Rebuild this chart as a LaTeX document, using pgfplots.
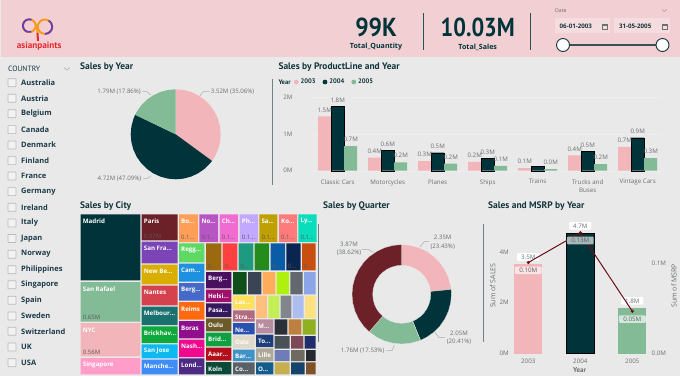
\documentclass[border=0pt]{standalone}
\usepackage{fontspec}
\usepackage{pgfplots}
\pgfplotsset{compat=1.18}
\setmainfont{Open Sans}
\newfontfamily\din{PT Sans}
\newcommand{\fs}[1]{\fontsize{#1}{#1}\selectfont}
\definecolor{bgc}{HTML}{E9E9E9}
\definecolor{headc}{HTML}{F1CFD2}
\definecolor{pinkc}{HTML}{F2B5BA}
\definecolor{darkc}{HTML}{00343A}
\definecolor{greenc}{HTML}{82BB96}
\definecolor{maroonc}{HTML}{6B2127}
\definecolor{linec}{HTML}{6E1014}
\definecolor{titlec}{HTML}{12343B}
\definecolor{lblc}{HTML}{6A6F70}
\definecolor{divc}{HTML}{6F8182}
\definecolor{leadc}{HTML}{ABABAB}
\definecolor{slabel}{HTML}{1C3A48}
\definecolor{logop}{HTML}{6A3FB0}
\definecolor{logoo}{HTML}{F59A1E}
\definecolor{logor}{HTML}{E8262E}
\newcommand{\T}[5]{\node[anchor=#3,inner sep=0pt,#4] at (axis cs:#1,#2) {#5};}
\newcommand{\Title}[3]{\T{#1}{#2}{west}{text=titlec}{\din\bfseries\fs{9.45}#3}}
\newcommand{\C}[2]{\draw[draw=black!27,line width=.7pt,fill=black!5,rounded corners=.5pt] (axis cs:8,#1-4) rectangle (axis cs:16,#1+4);\T{21}{#1}{west}{text=slabel}{\bfseries\fs{7.5}#2}}
\newcommand{\Lead}[1]{\draw[leadc,line width=.5pt] #1;}
\newcommand{\tm}[6]{\xglobal\definecolor{tc#5}{HTML}{#5}%
  \addplot[fill=tc#5,draw=none,forget plot] coordinates {(#1,#2)(#3,#2)(#3,#4)(#1,#4)(#1,#2)};%
  \node[anchor=west,inner sep=0pt,text=white] at (axis cs:#1+6,#2+21) {\bfseries\fs{6.2}#6};}
\newcommand{\tv}[3]{\node[anchor=west,inner sep=0pt,text=black!65] at (axis cs:#1,#2) {\fs{6}#3};}
\pgfplotsset{dotleg/.style={legend image code/.code={\fill[fill=#1,draw=none] (0pt,0pt) circle (2.4pt);}}}
\begin{document}
\begin{tikzpicture}
\useasboundingbox (0,0) rectangle (680pt,376pt);
\fill[bgc] (0,0) rectangle (680pt,376pt);
% ---------- canvas: frame, slicer, KPI, titles, pie labels
\begin{axis}[at={(0pt,0pt)},anchor=south west,scale only axis,width=680pt,height=376pt,
  xmin=0,xmax=680,ymin=0,ymax=376,y dir=reverse,hide axis,clip=false]
\fill[headc] (axis cs:1,0) rectangle (axis cs:680,57);
% logo
\draw[color=logoo,line width=1.9pt] (axis cs:29.3,25.7) circle (6.4pt);
\draw[color=logop,line width=1.9pt] (axis cs:29.3,25.7) ++(70:6.4pt) arc (70:290:6.4pt);
\draw[color=logoo,line width=1.9pt] (axis cs:45,26.7) circle (7.2pt);
\draw[color=logop,line width=1.9pt] (axis cs:45,26.7) ++(-90:7.2pt) arc (-90:60:7.2pt);
\draw[color=logoo,line width=1.9pt] (axis cs:35.5,24) .. controls (axis cs:37.5,28) and (axis cs:37.5,32) .. (axis cs:37.5,35);
\draw[color=logor,line width=2pt] (axis cs:37.5,33) -- (axis cs:38,41);
\T{39.2}{46}{center}{text=logor}{\din\bfseries\fs{9.2}asianpaints}
% header KPIs
\T{376}{27}{center}{text=darkc}{\din\bfseries\fs{26}\scalebox{.91}[1]{99K}}
\T{477.7}{27}{center}{text=darkc}{\din\bfseries\fs{26}\scalebox{.86}[1]{10.03M}}
\T{376}{47}{center}{text=darkc}{\bfseries\fs{7.1}Total\_Quantity}
\T{477.7}{47}{center}{text=darkc}{\bfseries\fs{7.1}Total\_Sales}
\draw[darkc!85,line width=.9pt] (axis cs:423.5,13) -- (axis cs:423.5,50);
\draw[darkc!85,line width=.9pt] (axis cs:530,13) -- (axis cs:530,50);
% date slicer
\T{555}{11}{west}{text=lblc}{\fs{5.2}Date}
\draw[lblc!70,line width=.5pt] (axis cs:662,9.5) -- (axis cs:664.3,11.5) -- (axis cs:666.6,9.5);
\fill[headc!70!white] (axis cs:555,18) rectangle (axis cs:610,33);
\fill[headc!70!white] (axis cs:614,18) rectangle (axis cs:670,33);
\T{559.5}{26.5}{west}{text=titlec}{\bfseries\fs{6.2}06-01-2003}
\T{618.8}{26.5}{west}{text=titlec}{\bfseries\fs{6.2}31-05-2005}
\fill[lblc] (axis cs:602,23.5) rectangle (axis cs:608,29.5);
\fill[headc!70!white] (axis cs:603,25.5) rectangle (axis cs:607,28.5);
\fill[lblc] (axis cs:661.5,23.5) rectangle (axis cs:667.5,29.5);
\fill[headc!70!white] (axis cs:662.5,25.5) rectangle (axis cs:666.5,28.5);
\draw[titlec!85,line width=1.1pt] (axis cs:563,45) -- (axis cs:662,45);
\draw[titlec,line width=.9pt,fill=white] (axis cs:563,45) circle (6.5pt);
\draw[titlec,line width=.9pt,fill=white] (axis cs:662.5,45) circle (6.5pt);
% slicer
\T{8}{69}{west}{text=titlec}{\din\fs{7.6}COUNTRY}
\draw[gray!70,line width=.5pt] (axis cs:64,67.5) -- (axis cs:67,70) -- (axis cs:70,67.5);
\C{82.7}{Australia}\C{98.2}{Austria}\C{113.7}{Belgium}\C{129.6}{Canada}\C{145}{Denmark}
\C{160.6}{Finland}\C{176}{France}\C{191.6}{Germany}\C{207.3}{Ireland}\C{223}{Italy}
\C{238.4}{Japan}\C{254.2}{Norway}\C{269.7}{Philippines}\C{284.8}{Singapore}\C{300.3}{Spain}
\C{316}{Sweden}\C{331.2}{Switzerland}\C{347}{UK}\C{362.7}{USA}
% titles
\Title{80}{66.7}{Sales by Year}
\Title{278.3}{66.7}{Sales by ProductLine and Year}
\Title{80}{206.3}{Sales by City}
\Title{323}{206.3}{Sales by Quarter}
\Title{488}{206.3}{Sales and MSRP by Year}
% dividers
\draw[divc,line width=1pt] (axis cs:272.8,79) -- (axis cs:272.8,185);
\draw[divc,line width=1pt] (axis cs:318.8,224) -- (axis cs:318.8,342);
\draw[divc,line width=1pt] (axis cs:483.8,224) -- (axis cs:483.8,342);
% bar legend title
\T{278.3}{82}{west}{text=titlec}{\din\bfseries\fs{6.6}Year}
% pie labels
\T{210.7}{91.8}{west}{text=lblc}{\fs{6.1}3.52M (35.06\%)}
\T{141}{91.8}{east}{text=lblc}{\fs{6.1}1.79M (17.86\%)}
\T{141.3}{178.7}{east}{text=lblc}{\fs{6.1}4.72M (47.09\%)}
\Lead{(axis cs:200,95.7) -- (axis cs:203.3,91.7) -- (axis cs:209.3,91.7)}
\Lead{(axis cs:142.7,91.7) -- (axis cs:147,91.7) -- (axis cs:150.7,95)}
\Lead{(axis cs:143.3,178.3) -- (axis cs:147.7,178.3) -- (axis cs:151,175.7)}
% donut labels
\T{442.7}{237.8}{center}{text=lblc}{\fs{6.1}2.35M}
\T{442.7}{246.8}{center}{text=lblc}{\fs{6.1}(23.43\%)}
\T{349}{244.4}{center}{text=lblc}{\fs{6.1}3.87M}
\T{349}{253.2}{center}{text=lblc}{\fs{6.1}(38.62\%)}
\T{459}{333}{center}{text=lblc}{\fs{6.1}2.05M}
\T{459}{342}{center}{text=lblc}{\fs{6.1}(20.41\%)}
\T{384.5}{350.5}{east}{text=lblc}{\fs{6.1}1.76M (17.53\%)}
\Lead{(axis cs:420,246.7) -- (axis cs:424.3,241.7) -- (axis cs:429,241.7)}
\Lead{(axis cs:361.7,249.3) -- (axis cs:368.3,249.3) -- (axis cs:373.3,252.3)}
\Lead{(axis cs:435,332.3) -- (axis cs:439,337.7) -- (axis cs:445,337.7)}
\Lead{(axis cs:386.7,350.3) -- (axis cs:392.3,350.3) -- (axis cs:394.3,345)}
\end{axis}
% ---------- pie: sales by year
\begin{axis}[at={(130.7pt,196.7pt)},anchor=south west,scale only axis,width=90pt,height=90pt,
  xmin=-1,xmax=1,ymin=-1,ymax=1,hide axis,clip=false]
\addplot[fill=pinkc,draw=none,data cs=polar] coordinates {(0,0)(90,1)(80,1)(70,1)(60,1)(50,1)(40,1)(30,1)(20,1)(10,1)(0,1)(-10,1)(-20,1)(-30,1)(-36.2,1)(0,0)};
\addplot[fill=darkc,draw=none,data cs=polar] coordinates {(0,0)(-36.2,1)(-40,1)(-50,1)(-60,1)(-70,1)(-80,1)(-90,1)(-100,1)(-110,1)(-120,1)(-130,1)(-140,1)(-150,1)(-160,1)(-170,1)(-180,1)(-190,1)(-200,1)(-205.7,1)(0,0)};
\addplot[fill=greenc,draw=none,data cs=polar] coordinates {(0,0)(-205.7,1)(-210,1)(-220,1)(-230,1)(-240,1)(-250,1)(-260,1)(-270,1)(0,0)};
\end{axis}
% ---------- donut: sales by quarter
\begin{axis}[at={(352pt,32pt)},anchor=south west,scale only axis,width=99.4pt,height=99.4pt,
  xmin=-1,xmax=1,ymin=-1,ymax=1,hide axis,clip=false]
\addplot[fill=pinkc,draw=bgc,line width=.3pt,data cs=polar] coordinates {(90,1)(80,1)(70,1)(60,1)(50,1)(40,1)(30,1)(20,1)(10,1)(5.7,1)(5.7,.5835)(10,.5835)(20,.5835)(30,.5835)(40,.5835)(50,.5835)(60,.5835)(70,.5835)(80,.5835)(90,.5835)(90,1)};
\addplot[fill=darkc,draw=bgc,line width=.3pt,data cs=polar] coordinates {(5.7,1)(0,1)(-10,1)(-20,1)(-30,1)(-40,1)(-50,1)(-60,1)(-67.8,1)(-67.8,.5835)(-60,.5835)(-50,.5835)(-40,.5835)(-30,.5835)(-20,.5835)(-10,.5835)(0,.5835)(5.7,.5835)(5.7,1)};
\addplot[fill=greenc,draw=bgc,line width=.3pt,data cs=polar] coordinates {(-67.8,1)(-70,1)(-80,1)(-90,1)(-100,1)(-110,1)(-120,1)(-130.9,1)(-130.9,.5835)(-120,.5835)(-110,.5835)(-100,.5835)(-90,.5835)(-80,.5835)(-70,.5835)(-67.8,.5835)(-67.8,1)};
\addplot[fill=maroonc,draw=bgc,line width=.3pt,data cs=polar] coordinates {(-130.9,1)(-140,1)(-150,1)(-160,1)(-170,1)(-180,1)(-190,1)(-200,1)(-210,1)(-220,1)(-230,1)(-240,1)(-250,1)(-260,1)(-270,1)(-270,.5835)(-260,.5835)(-250,.5835)(-240,.5835)(-230,.5835)(-220,.5835)(-210,.5835)(-200,.5835)(-190,.5835)(-180,.5835)(-170,.5835)(-160,.5835)(-150,.5835)(-140,.5835)(-130.9,.5835)(-130.9,1)};
\end{axis}
% ---------- bars: product line by year
\begin{axis}[at={(310pt,205.3pt)},anchor=south west,scale only axis,width=351pt,height=77pt,
  ybar=0pt,bar width=13pt,xmin=-0.554,xmax=6.466,ymin=0,ymax=2.1,clip=false,
  axis line style={draw=none},major tick length=0pt,
  ymajorgrids,grid style={draw=black!7,line width=.4pt},
  ytick={0,1,2},yticklabels={0M,1M,2M},
  xtick={0,1,2,3,4,5,6},
  xticklabels={Classic Cars,Motorcycles,Planes,Ships,Trains,{Trucks and\\Buses},Vintage Cars},
  yticklabel style={font=\fs{6.2},text=lblc,inner sep=0pt,xshift=-17.3pt},
  xticklabel style={font=\fontsize{6.2}{8.6}\selectfont,text=lblc,inner sep=0pt,align=center,yshift=-8.5pt},
  point meta=explicit symbolic,
  nodes near coords,
  every node near coord/.append style={font=\fs{6.2},text=lblc,inner sep=0pt,anchor=south,yshift=4pt},
  legend columns=-1,
  legend style={at={(-0.046,1.152)},anchor=west,draw=none,fill=none,inner sep=0pt,outer sep=0pt,
    font=\din\bfseries\fs{6.6},text=titlec,
    /tikz/every even column/.append style={column sep=5pt}}]
\addplot[fill=pinkc,draw=none,dotleg=pinkc] coordinates {(0,1.48)[1.5M] (1,.36)[0.4M] (2,.26)[0.3M] (3,.24)[0.2M] (4,.07)[0.1M] (5,.42)[0.4M] (6,.65)[0.7M]};
\addplot[fill=darkc,draw=black,line width=.4pt,dotleg=darkc] coordinates {(0,1.75)[1.8M] (1,.55)[0.6M] (2,.49)[0.5M] (3,.33)[0.3M] (4,.11)[ ] (5,.52)[0.5M] (6,.9)[0.9M]};
\addplot[fill=greenc,draw=none,dotleg=greenc] coordinates {(0,.67)[0.7M] (1,.23)[0.2M] (2,.19)[0.2M] (3,.13)[0.1M] (4,.045)[0.0M] (5,.18)[0.2M] (6,.34)[0.3M]};
\legend{2003,2004,2005}
\end{axis}
% ---------- treemap
\begin{axis}[at={(75pt,0pt)},anchor=south west,scale only axis,width=245pt,height=181pt,
  xmin=0,xmax=735,ymin=0,ymax=543,y dir=reverse,hide axis,clip=false]
\tm{17}{58}{196}{256}{00343A}{Madrid}
\tm{17}{261}{196}{380}{82BB96}{San Rafael}
\tm{17}{384}{196}{484}{F2B5BA}{NYC}
\tm{17}{489}{196}{538}{FF9CC7}{Singapore}
\tm{200}{58}{308}{136}{6B2127}{Paris}
\tm{200}{140}{308}{205}{7B45B8}{San Fra...}
\tm{200}{209}{308}{268}{D9AE00}{New Be...}
\tm{200}{272}{308}{331}{D6414E}{Nantes}
\tm{200}{335}{308}{390}{1B7070}{Melbour...}
\tm{200}{394}{308}{444}{0FA83C}{Brickhav...}
\tm{200}{448}{308}{490}{0CB9F0}{San Jose}
\tm{200}{494}{308}{538}{3E8CF8}{Manche...}
\tm{312}{58}{369}{141}{FF9F57}{Bo...}
\tm{373}{58}{429}{141}{B855C4}{No...}
\tm{434}{58}{489}{141}{F06CD0}{Ch...}
\tm{494}{58}{549}{141}{C3A8FF}{Ph...}
\tm{553}{58}{607}{141}{BFA000}{Sa...}
\tm{612}{58}{666}{141}{FF7B7B}{Ko...}
\tm{670}{58}{725}{141}{0ADDBB}{Ly...}
\tm{312}{145}{388}{202}{5DD964}{Regg...}
\tm{312}{206}{388}{260}{1E90E0}{Cam...}
\tm{312}{264}{388}{317}{4668C8}{Berg...}
\tm{312}{321}{388}{374}{FF6A0F}{Reims}
\tm{312}{378}{388}{430}{8E0E8E}{Boras}
\tm{312}{434}{388}{486}{F0088E}{Nash...}
\tm{312}{490}{388}{538}{4D2A84}{Lond...}
\tm{393}{145}{439}{226}{9B6A10}{}
\tm{443}{145}{487}{226}{FF4040}{}
\tm{491}{145}{535}{226}{1F9A80}{}
\tm{539}{145}{582}{226}{238C1C}{}
\tm{587}{145}{630}{226}{0B5CA6}{}
\tm{634}{145}{677}{226}{0A2550}{}
\tm{681}{145}{722}{226}{C84F10}{}
\tm{393}{231}{469}{280}{4A1060}{Berg...}
\tm{393}{284}{469}{321}{A00F6C}{Helsi...}
\tm{393}{325}{469}{366}{35185E}{Pasa...}
\tm{393}{370}{469}{409}{6B5B28}{Oulu}
\tm{393}{413}{469}{454}{0FA040}{Brid...}
\tm{393}{458}{469}{497}{B50E1B}{Aaar...}
\tm{393}{501}{469}{538}{0B4A3A}{Koln}
\tm{474}{231}{515}{298}{0F4F1A}{}
\tm{519}{231}{559}{298}{3A4454}{}
\tm{563}{231}{601}{298}{FFAD5A}{}
\tm{605}{231}{642}{298}{B0F010}{}
\tm{646}{231}{683}{298}{63686F}{}
\tm{687}{231}{722}{298}{8CA4E8}{}
\tm{474}{302}{539}{342}{FFE05A}{Las...}
\tm{543}{302}{576}{369}{FFC07F}{}
\tm{580}{302}{613}{369}{C4EE55}{}
\tm{617}{302}{649}{369}{80868C}{}
\tm{653}{302}{686}{369}{AEBDF0}{}
\tm{690}{302}{722}{369}{FFE080}{}
\tm{474}{346}{539}{380}{B36A80}{Stra...}
\tm{474}{384}{539}{418}{2A50B0}{Ne...}
\tm{474}{422}{539}{460}{E0D8C8}{Oslo}
\tm{474}{464}{539}{498}{3F92C8}{Bar...}
\tm{474}{502}{539}{538}{5A6068}{Co...}
\tm{543}{373}{595}{415}{B98DA0}{M...}
\tm{543}{419}{595}{456}{1E3E7A}{To...}
\tm{543}{460}{595}{498}{AEA898}{Lille}
\tm{543}{502}{595}{538}{135C8C}{O...}
\tm{599}{373}{637}{419}{2B3038}{}
\tm{641}{373}{679}{419}{BE8040}{}
\tm{683}{373}{722}{419}{8FB020}{}
\tm{599}{423}{644}{461}{4A5058}{}
\tm{648}{423}{685}{461}{7C4858}{}
\tm{689}{423}{722}{461}{1F2E68}{}
\tm{599}{465}{644}{498}{6E7DB8}{}
\tm{648}{465}{689}{498}{6F6A60}{}
\tm{693}{465}{722}{498}{23292F}{}
\tm{599}{502}{644}{538}{C4AE50}{}
\tm{648}{502}{689}{538}{15436A}{}
\tm{693}{502}{722}{538}{7E5128}{}
\tv{23}{366}{0.65M}\tv{23}{471}{0.56M}\tv{206}{123}{0.37M}
\tv{318}{127}{0.1...}\tv{379}{127}{0.1...}\tv{440}{127}{0.1...}\tv{500}{127}{0.1...}\tv{559}{127}{0.1...}\tv{618}{127}{0.1...}\tv{676}{127}{0.1...}
\tv{398}{213}{0...}\tv{448}{213}{0...}\tv{496}{213}{0...}\tv{544}{213}{0...}\tv{592}{213}{0...}\tv{639}{213}{0...}\tv{686}{213}{0...}
\end{axis}
% ---------- sales and MSRP by year
\begin{axis}[at={(512pt,22.3pt)},anchor=south west,scale only axis,width=138pt,height=132pt,
  ybar=0pt,bar width=27.7pt,xmin=-0.313,xmax=2.34,ymin=0,ymax=5.18,clip=false,
  axis line style={draw=none},major tick length=0pt,
  ytick={0,2,4},yticklabels={0M,2M,4M},
  xtick={0,1,2},xticklabels={2003,2004,2005},
  tick label style={font=\fs{6.2},text=lblc,inner sep=0pt},
  yticklabel style={xshift=-3pt},
  xticklabel style={yshift=-5pt},
  xlabel={Year},xlabel style={font=\din\bfseries\fs{7},text=lblc,at={(axis description cs:0.49,-0.125)},anchor=center},
  ylabel={Sum of SALES},ylabel style={font=\fs{7},text=lblc,at={(axis description cs:-0.14,0.515)},anchor=center},
  point meta=explicit symbolic,nodes near coords,
  every node near coord/.append style={font=\fs{6.2},text=lblc,fill=white,rounded corners=1pt,inner xsep=4pt,inner ysep=1.5pt,anchor=south,yshift=3pt}]
\addplot[fill=pinkc,draw=none,bar shift=0pt] coordinates {(0,3.52)[3.5M]};
\addplot[fill=darkc,draw=black,line width=.9pt,bar shift=0pt] coordinates {(1,4.73)[4.7M]};
\addplot[fill=greenc,draw=none,bar shift=0pt] coordinates {(2,1.8)[1.8M]};
\end{axis}
\begin{axis}[at={(512pt,22.3pt)},anchor=south west,scale only axis,width=138pt,height=132pt,
  xmin=-0.313,xmax=2.34,ymin=0,ymax=0.1462,clip=false,
  axis x line=none,axis y line*=right,
  axis line style={draw=none},major tick length=0pt,
  ytick={0,0.1},yticklabels={0.0M,0.1M},
  tick label style={font=\fs{6.2},text=lblc,inner sep=0pt},
  yticklabel style={xshift=1.5pt},
  ylabel={Sum of MSRP},ylabel style={font=\fs{7},text=lblc,at={(axis description cs:1.174,0.515)},anchor=center},
  point meta=explicit symbolic,nodes near coords,
  every node near coord/.append style={font=\fs{6.2},text=lblc!85!black,fill=white,fill opacity=.65,text opacity=1,rounded corners=1pt,inner xsep=4.5pt,inner ysep=1.5pt,anchor=north,yshift=-3.5pt}]
\addplot[color=linec,line width=1pt,mark=*,mark size=1pt] coordinates {(0,.101)[0.10M] (1,.134)[0.13M] (2,.047)[0.05M]};
\end{axis}
\end{tikzpicture}
\end{document}
